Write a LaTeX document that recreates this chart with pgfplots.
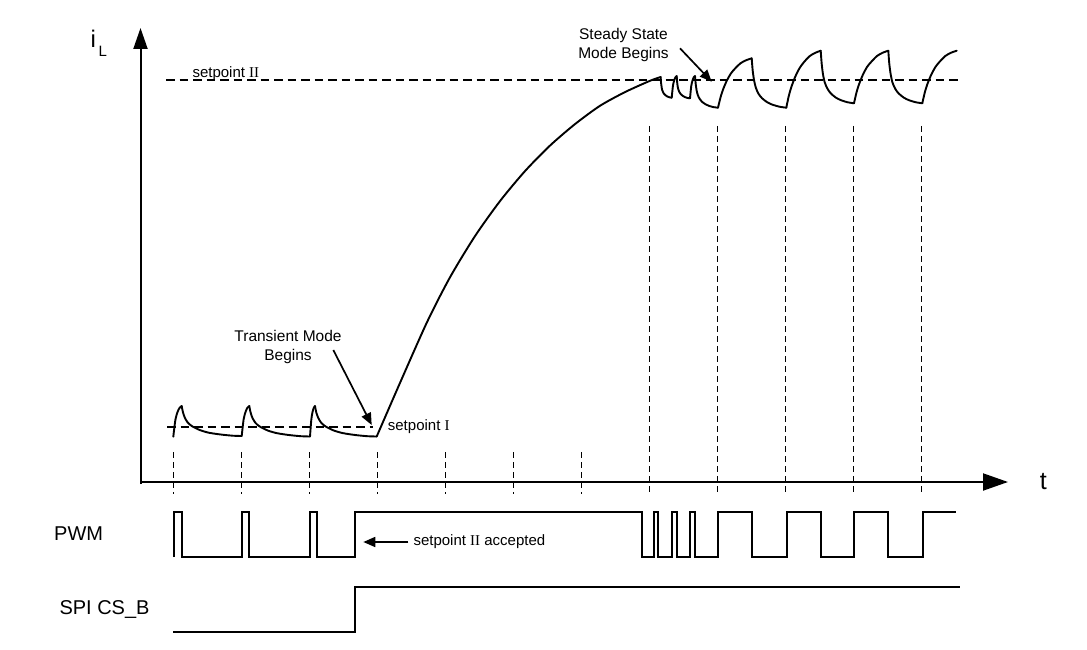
\documentclass[border=0pt]{standalone}
\usepackage{fontspec}
\setmainfont{Liberation Sans}
\newfontfamily\romanfont{Liberation Serif}
\usepackage{pgfplots}
\pgfplotsset{compat=1.18}
\usetikzlibrary{arrows.meta}

\pgfplotsset{
  wave/.style={black, line width=1.9pt, smooth, tension=0.45, no marks, line cap=round, line join=round},
  sig/.style={black, line width=1.9pt, no marks, line join=miter},
  hdash/.style={black, line width=1.5pt, dash pattern=on 8.5pt off 5pt, no marks},
  vdash/.style={black, line width=1.3pt, dash pattern=on 6pt off 4pt, no marks},
  note/.style={black, line width=1.7pt, no marks, -{Triangle[length=12pt,width=10pt]}},
}

\begin{document}
\begin{tikzpicture}
\begin{axis}[
  scale only axis,
  width=1087pt, height=650pt,
  xmin=0, xmax=1087, ymin=0, ymax=650,
  y dir=reverse,
  hide axis,
  clip=false,
]

% keep the full frame as the page
\path (axis cs:0,0) -- (axis cs:1087,650);

% axes
\addplot[black, line width=2pt, no marks, -{Triangle[length=21pt,width=14pt]}]
  coordinates {(140.5,484) (140.5,28)};
\addplot[black, line width=2pt, no marks, -{Triangle[length=25pt,width=17pt]}]
  coordinates {(140.5,482) (1008,482)};

% setpoints
\addplot[hdash] coordinates {(166,80) (960,80)};
\addplot[hdash] coordinates {(167,427) (373,427)};

% time markers
\addplot[vdash] coordinates {(173.5,452) (173.5,494)};
\addplot[vdash] coordinates {(241.5,452) (241.5,494)};
\addplot[vdash] coordinates {(309.5,452) (309.5,494)};
\addplot[vdash] coordinates {(377.5,452) (377.5,494)};
\addplot[vdash] coordinates {(445.5,452) (445.5,494)};
\addplot[vdash] coordinates {(513.5,452) (513.5,494)};
\addplot[vdash] coordinates {(581.5,452) (581.5,494)};
\addplot[vdash] coordinates {(649.5,126) (649.5,494)};
\addplot[vdash] coordinates {(717.5,126) (717.5,494)};
\addplot[vdash] coordinates {(785.5,126) (785.5,494)};
\addplot[vdash] coordinates {(853.5,126) (853.5,494)};
\addplot[vdash] coordinates {(921.5,126) (921.5,494)};

% inductor current, setpoint I
\addplot[wave] coordinates {(173.3,436.7) (175.4,419.8) (177.5,412.1) (179.6,407.8) (181.7,406)};
\addplot[wave] coordinates {(181.7,406) (182.9,412) (184.7,417.4) (187.7,422.5) (191.9,426.1) (199.7,430) (208.7,432.7) (220.7,434.5) (232.7,435.7) (241.7,436)};
\addplot[wave] coordinates {(241.7,436) (243.6,419.5) (245.5,412) (247.4,407.8) (249.3,406)};
\addplot[wave] coordinates {(249.3,406) (250.5,412.1) (252.3,417.6) (255.4,422.8) (259.6,426.4) (267.5,430.4) (276.6,433.1) (288.8,435) (300.9,436.2) (310,436.5)};
\addplot[wave] coordinates {(310,436.5) (311.3,419.7) (312.5,412.1) (313.8,407.8) (315,406)};
\addplot[wave] coordinates {(315,406) (316.2,412.1) (318.1,417.6) (321.2,422.8) (325.5,426.4) (333.5,430.4) (342.8,433.1) (355.1,435) (367.4,436.2) (376.7,436.5)};

% transient
\addplot[wave] coordinates {(376.7,436.5) (400,382.9) (427,322.2) (450,277.3) (475,236.1) (500,201.1) (525,171.1) (550,145.6) (575,124.1) (600,105.8) (625,92.1) (650,80.8) (660.7,77)};

% steady state
\addplot[wave] coordinates {(660.7,77) (661.0,82.2) (661.5,86.3) (662.0,89.4) (662.9,91.9) (664.0,93.8) (665.7,95.4) (667.3,96.5) (669.5,97.3) (671.7,97.7)};
\addplot[wave] coordinates {(671.7,97.7) (672.95,85.8) (674.2,80.3) (675.45,77.3) (676.7,76)};
\addplot[wave] coordinates {(676.7,76) (677.1,81.6) (677.6,86) (678.3,89.4) (679.4,92.1) (680.7,94.1) (682.7,95.8) (684.7,97) (687.3,97.9) (690,98.3)};
\addplot[wave] coordinates {(690,98.3) (691.25,86) (692.5,80.5) (693.75,77.3) (695,76)};
\addplot[wave] coordinates {(695,76) (695.7,83.9) (696.6,90.3) (697.8,95) (699.6,98.8) (701.9,101.7) (705.4,104.2) (708.8,105.8) (713.4,107.1) (718,107.7)};
\addplot[wave] coordinates {(718,107.7) (720.4,97.8) (722.7,90.4) (726.4,81.5) (730.8,73.6) (734.9,68.7) (740.6,63.2) (746,60.3) (751.7,58.3)};
\addplot[wave] coordinates {(751.7,58.3) (752.7,70.7) (754.1,80.5) (755.9,87.9) (758.6,93.9) (762.1,98.3) (767.3,102.3) (772.5,104.7) (779.4,106.7) (786.3,107.7)};
\addplot[wave] coordinates {(786.3,107.7) (788.7,96.3) (791.1,87.8) (794.9,77.5) (799.4,68.4) (803.5,62.7) (809.3,56.4) (814.9,53) (820.7,50.7)};
\addplot[wave] coordinates {(820.7,50.7) (821.7,63.9) (823,74.4) (824.7,82.3) (827.4,88.6) (830.7,93.3) (835.7,97.5) (840.7,100.1) (847.3,102.2) (854,103.3)};
\addplot[wave] coordinates {(854,103.3) (856.4,92.8) (858.8,84.9) (862.6,75.4) (867,67) (871.2,61.9) (877,56) (882.5,52.8) (888.3,50.7)};
\addplot[wave] coordinates {(888.3,50.7) (889.3,63.9) (890.7,74.4) (892.4,82.3) (895.1,88.6) (898.5,93.3) (903.6,97.5) (908.7,100.1) (915.5,102.2) (922.3,103.3)};
\addplot[wave] coordinates {(922.3,103.3) (924.7,92.8) (927.1,84.9) (930.9,75.4) (935.4,67) (939.5,61.9) (945.3,56) (950.9,52.8) (956.7,50.7)};

% PWM
\addplot[sig] coordinates {
  (174,557) (174,512) (181.7,512) (181.7,557) (241.7,557) (241.7,512) (249,512) (249,557)
  (310,557) (310,512) (317.3,512) (317.3,557) (355,557) (355,512) (642.3,512) (642.3,557)
  (654,557) (654,512) (658.3,512) (658.3,557) (672.3,557) (672.3,512) (676.7,512) (676.7,557)
  (690,557) (690,512) (695,512) (695,557) (718.3,557) (718.3,512) (751.7,512) (751.7,557)
  (786.7,557) (786.7,512) (820.7,512) (820.7,557) (854,557) (854,512) (888.3,512) (888.3,557)
  (922.7,557) (922.7,512) (956,512)};

% SPI CS_B
\addplot[sig] coordinates {(173.3,631.7) (355,631.7) (355,587.3) (960,587.3)};

% annotation arrows
\addplot[note] coordinates {(333.3,350) (371.7,425)};
\addplot[note] coordinates {(680,48.3) (711.7,81.7)};
\addplot[note] coordinates {(408.3,542) (363.3,542)};

% labels
\node[anchor=base, font=\fontsize{24}{26}\selectfont] at (axis cs:93.3,48) {i};
\node[anchor=base west, inner sep=0pt, font=\fontsize{15}{16}\selectfont] at (axis cs:98.5,57) {L};
\node[font=\fontsize{25}{28}\selectfont] at (axis cs:1043.3,482) {t};
\node[anchor=base west, inner sep=0pt, font=\fontsize{15}{18}\selectfont] at (axis cs:192.3,78) {setpoint {\romanfont II}};
\node[anchor=west, inner sep=0pt, font=\fontsize{15}{18}\selectfont] at (axis cs:387.7,426.7) {setpoint {\romanfont I}};
\node[align=center, inner sep=0pt, font=\fontsize{15.5}{18.7}\selectfont] at (axis cs:288,346.7) {Transient Mode\\Begins};
\node[align=center, inner sep=0pt, font=\fontsize{15.5}{19.5}\selectfont] at (axis cs:623.5,45) {Steady State\\Mode Begins};
\node[anchor=west, inner sep=0pt, font=\fontsize{15}{18}\selectfont] at (axis cs:413.3,541.7) {setpoint {\romanfont II} accepted};
\node[anchor=west, inner sep=0pt, font=\fontsize{20}{24}\selectfont] at (axis cs:54,533.7) {PWM};
\node[anchor=west, inner sep=0pt, font=\fontsize{20}{24}\selectfont] at (axis cs:59.3,609) {SPI CS\_B};

\end{axis}
\end{tikzpicture}
\end{document}
